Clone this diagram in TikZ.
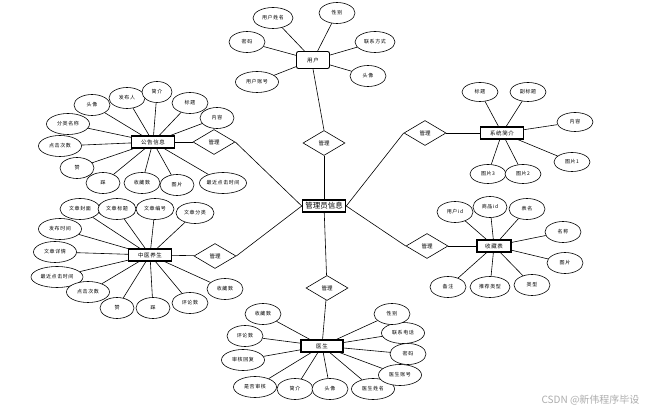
\documentclass[tikz,border=0pt]{standalone}
\usepackage{fontspec}
\newfontfamily\cjk{Noto Sans CJK SC}
\newfontfamily\cjksp[LetterSpace=12]{Noto Sans CJK SC}
\usetikzlibrary{shapes.geometric}

\begin{document}
\begin{tikzpicture}[x=1pt, y=-1pt,
  attr/.style={ellipse, draw, line width=0.6pt, fill=white, minimum width=36pt, minimum height=21pt, inner sep=0pt, font=\cjksp\fontsize{5}{6}\selectfont},
  wattr/.style={attr, minimum width=43pt},
  ent/.style={rectangle, draw, line width=1.2pt, fill=white, minimum width=43pt, minimum height=12pt, inner sep=0pt, font=\cjksp\fontsize{5.5}{6}\selectfont},
  rel/.style={diamond, draw, line width=0.6pt, fill=white, minimum width=42pt, minimum height=25pt, inner sep=0pt, font=\cjk\fontsize{5.5}{6}\selectfont},
  link/.style={line width=0.6pt}]
  \useasboundingbox (0,0) rectangle (648,411);

  % ---------------- ADMIN ----------------
  \node[ent, line width=1.5pt, inner sep=1pt, font=\cjk\fontsize{7.5}{8}\selectfont] (admin) at (324,206) {管理员信息};
  \node[rel] (rUser) at (324,143) {管理};
  \node[rel] (rAnn) at (214,142) {管理};
  \node[rel] (rTcm) at (215,256) {管理};
  \node[rel] (rIntro) at (425,133) {管理};
  \node[rel] (rFav) at (427,246) {管理};
  \node[rel] (rDoc) at (327,288) {管理};

  % ---------------- USER ----------------
  \node[ent, line width=0.9pt, rounded corners=2pt, minimum width=33pt, minimum height=17pt] (user) at (313,60) {用户};
  \node[attr, minimum width=40pt] (u1) at (273,18) {用户姓名};
  \node[attr] (u2) at (337,13) {性别};
  \node[attr] (u3) at (247,42) {密码};
  \node[attr, minimum width=40pt] (u4) at (375,42) {联系方式};
  \node[wattr] (u5) at (257,82) {用户账号};
  \node[attr] (u6) at (368,76) {头像};
  \foreach \i in {1,...,6} \draw[link] (u\i) -- (user);

  % ---------------- ANNOUNCEMENT ----------------
  \node[ent] (ann) at (153,142) {公告信息};
  \node[attr] (a1) at (92,105) {头像};
  \node[attr] (a2) at (127,98) {发布人};
  \node[attr, minimum width=30pt] (a3) at (157,92) {简介};
  \node[attr] (a4) at (190,103) {标题};
  \node[attr, minimum width=34pt] (a5) at (217,118) {内容};
  \node[wattr] (a6) at (68,124) {分类名称};
  \node[wattr] (a7) at (60,146) {点击次数};
  \node[attr, minimum width=34pt] (a8) at (77,168) {赞};
  \node[attr, minimum width=34pt] (a9) at (103,183) {踩};
  \node[attr] (a10) at (142,183) {收藏数};
  \node[attr, minimum width=34pt] (a11) at (177,185) {图片};
  \node[attr, minimum width=47pt] (a12) at (223,183) {最近点击时间};
  \foreach \i in {1,...,12} \draw[link] (a\i) -- (ann);

  % ---------------- TCM ----------------
  \node[ent] (tcm) at (150,255) {中医养生};
  \node[attr, minimum width=40pt] (t1) at (80,209) {文章封面};
  \node[attr, minimum width=38pt] (t2) at (117,209) {文章标题};
  \node[attr, minimum width=38pt] (t3) at (155,209) {文章编号};
  \node[attr, minimum width=38pt] (t4) at (195,213) {文章分类};
  \node[wattr] (t5) at (60,229) {发布时间};
  \node[wattr] (t6) at (55,252) {文章详情};
  \node[attr, minimum width=52pt] (t7) at (57,277) {最近点击时间};
  \node[wattr] (t8) at (88,292) {点击次数};
  \node[attr, minimum width=34pt] (t9) at (117,308) {赞};
  \node[attr, minimum width=34pt] (t10) at (153,308) {踩};
  \node[attr] (t11) at (190,303) {评论数};
  \node[attr] (t12) at (225,289) {收藏数};
  \foreach \i in {1,...,12} \draw[link] (t\i) -- (tcm);

  % ---------------- INTRO ----------------
  \node[ent] (intro) at (502,133) {系统简介};
  \node[attr, minimum height=19pt] (s1) at (480,92) {标题};
  \node[attr, minimum height=19pt] (s2) at (528,92) {副标题};
  \node[attr, minimum height=19pt] (s3) at (575,122) {内容};
  \node[attr, minimum height=19pt] (s4) at (572,162) {图片1};
  \node[attr, minimum height=19pt] (s5) at (488,174) {图片3};
  \node[attr, minimum height=19pt] (s6) at (523,174) {图片2};
  \foreach \i in {1,...,6} \draw[link] (s\i) -- (intro);

  % ---------------- FAVOURITES ----------------
  \node[ent, minimum width=34pt] (fav) at (494,246) {收藏表};
  \node[attr] (f1) at (455,212) {用户id};
  \node[attr, minimum width=34pt] (f2) at (490,207) {商品id};
  \node[attr] (f3) at (527,209) {表名};
  \node[attr] (f4) at (563,232) {名称};
  \node[attr] (f5) at (565,263) {图片};
  \node[attr] (f6) at (448,287) {备注};
  \node[attr, minimum width=40pt] (f7) at (490,287) {推荐类型};
  \node[attr] (f8) at (532,285) {类型};
  \foreach \i in {1,...,8} \draw[link] (f\i) -- (fav);

  % ---------------- DOCTOR ----------------
  \node[ent, minimum width=42pt] (doc) at (322,346) {医生};
  \node[attr] (d1) at (263,314) {收藏数};
  \node[attr] (d2) at (245,336) {评论数};
  \node[wattr] (d3) at (243,360) {审核回复};
  \node[wattr] (d4) at (255,387) {是否审核};
  \node[attr] (d5) at (295,389) {简介};
  \node[attr] (d6) at (330,389) {头像};
  \node[wattr] (d7) at (373,389) {医生姓名};
  \node[wattr] (d8) at (400,375) {医生账号};
  \node[attr] (d9) at (408,354) {密码};
  \node[wattr] (d10) at (403,333) {联系电话};
  \node[attr] (d11) at (392,314) {性别};
  \foreach \i in {1,...,11} \draw[link] (d\i) -- (doc);

  % ---------------- RELATIONS ----------------
  \draw[link] (user.south) -- (rUser.north);
  \draw[link] (rUser) -- (admin);
  \draw[link] (ann) -- (rAnn);
  \draw[link] (rAnn.east) -- (admin.west);
  \draw[link] (tcm) -- (rTcm);
  \draw[link] (rTcm.east) -- (admin.west);
  \draw[link] (intro) -- (rIntro);
  \draw[link] (rIntro.west) -- (admin.east);
  \draw[link] (fav) -- (rFav);
  \draw[link] (rFav.west) -- (admin.east);
  \draw[link] (admin) -- (rDoc);
  \draw[link] (rDoc) -- (doc);

  \node[anchor=east, text=gray!65, font=\cjk\fontsize{10}{11}\selectfont] (mark) at (643,400) {CSDN @新伟程序毕设};
\end{tikzpicture}
\end{document}
